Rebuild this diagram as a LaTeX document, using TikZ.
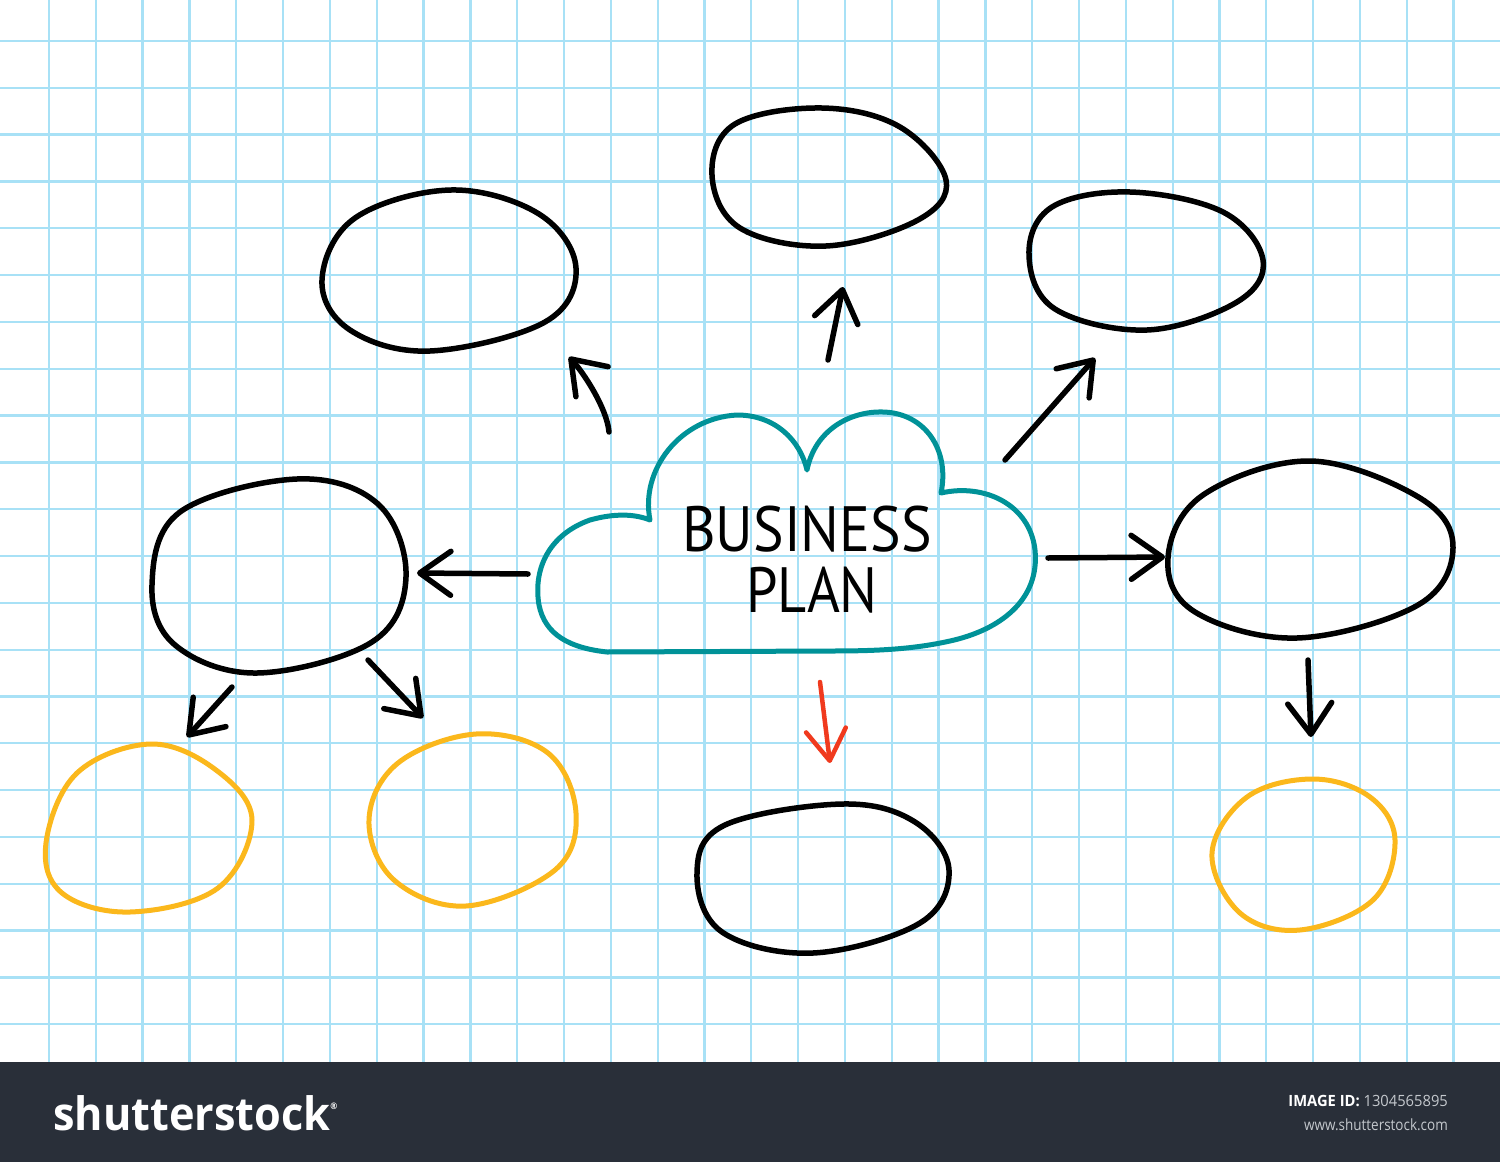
\documentclass[tikz,border=0pt]{standalone}
\usepackage{fontspec}
\usepackage{graphicx}
\setmainfont{PT Sans}
\newfontfamily\barfont{Open Sans}
\usetikzlibrary{arrows.meta}
\definecolor{gridblue}{RGB}{168,225,246}
\definecolor{cloudteal}{RGB}{0,146,152}
\definecolor{penyellow}{RGB}{251,184,28}
\definecolor{penred}{RGB}{240,58,30}
\definecolor{barbg}{RGB}{41,47,57}
\definecolor{bargray}{RGB}{196,200,205}
\tikzset{
  gridline/.style={draw=gridblue, line width=2.3pt},
  blackpen/.style={draw=black, line width=5.5pt, line cap=round, line join=round},
  yellowpen/.style={draw=penyellow, line width=5pt, line cap=round, line join=round},
  cloudpen/.style={draw=cloudteal, line width=5pt, line cap=round, line join=round},
  handarrow/.style={draw=black, line width=5.5pt, line cap=round, line join=round,
    -{Straight Barb[length=31pt, width=44pt, line cap=round, line join=round]}},
  redarrow/.style={draw=penred, line width=4.5pt, line cap=round, line join=round,
    -{Straight Barb[length=31pt, width=40pt, line cap=round, line join=round]}},
  handtext/.style={inner sep=0pt, font=\fontsize{64}{64}\selectfont, text=black},
  oval/.style={smooth cycle, tension=0.62},
}
\begin{document}
\begin{tikzpicture}[x=1pt, y=-1pt]
\useasboundingbox (0,0) rectangle (1500,1162);
\fill[white] (0,0) rectangle (1500,1062);
% grid paper
\foreach \i in {0,...,30} \draw[gridline] ({49+46.82*\i},0) -- ({49+46.82*\i},1062);
\foreach \j in {0,...,21} \draw[gridline] (0,{41+46.82*\j}) -- (1500,{41+46.82*\j});

% black ovals
\draw[blackpen] plot[oval] coordinates {(576,268) (545,322) (430,351) (350,330) (322,280) (355,218) (451,190) (539,214)};
\draw[blackpen] plot[oval] coordinates {(946,180) (918,220) (826,246) (740,228) (712,175) (735,124) (822,108) (900,127)};
\draw[blackpen] plot[oval] coordinates {(1263,260) (1237,302) (1147,330) (1055,309) (1029,255) (1052,207) (1130,192) (1223,212)};
\draw[blackpen] plot[oval] coordinates {(1453,548) (1418,605) (1297,638) (1195,612) (1168,558) (1203,495) (1310,461) (1420,498)};
\draw[blackpen] plot[oval] coordinates {(406,577) (372,642) (257,673) (175,645) (152,585) (180,512) (297,479) (378,504)};
\draw[blackpen] plot[oval] coordinates {(949,870) (920,923) (813,953) (722,932) (697,873) (725,825) (843,804) (915,822)};

% yellow ovals
\draw[yellowpen] plot[oval] coordinates {(252,820) (218,888) (130,912) (62,893) (46,843) (77,773) (151,744) (216,770)};
\draw[yellowpen] plot[oval] coordinates {(576,813) (555,870) (466,906) (394,880) (369,820) (398,763) (476,734) (548,753)};
\draw[yellowpen] plot[oval] coordinates {(1395,840) (1373,900) (1300,930) (1240,913) (1212,853) (1247,797) (1313,779) (1370,797)};

% cloud
\draw[cloudpen] (607,652) .. controls (570,648) and (545,635) .. (539,605)
  .. controls (533,570) and (548,535) .. (590,520)
  .. controls (615,513) and (635,514) .. (650,520)
  .. controls (640,470) and (680,418) .. (737,415)
  .. controls (775,415) and (800,440) .. (807,470)
  .. controls (815,430) and (850,411) .. (883,412)
  .. controls (925,413) and (950,450) .. (941,493)
  .. controls (985,483) and (1030,505) .. (1035,550)
  .. controls (1040,600) and (1000,630) .. (950,641)
  .. controls (910,650) and (870,651) .. (830,651)
  -- (607,652);
\node[handtext, anchor=center] (business) at (807,529) {\scalebox{0.9}[1]{BUSINESS}};
\node[handtext, anchor=center] (plan) at (812,590) {\scalebox{0.88}[1]{PLAN}};

% arrow end points
\coordinate (s1) at (609,432); \coordinate (t1) at (569,357);
\coordinate (s2) at (828,360); \coordinate (t2) at (843,287);
\coordinate (s3) at (1005,460); \coordinate (t3) at (1095,358);
\coordinate (s4) at (1048,558); \coordinate (t4) at (1165,557);
\coordinate (s5) at (528,574); \coordinate (t5) at (417,573);
\coordinate (s6) at (232,687); \coordinate (t6) at (187,737);
\coordinate (s7) at (368,660); \coordinate (t7) at (423,718);
\coordinate (s8) at (820,682); \coordinate (t8) at (830,763);
\coordinate (s9) at (1308,660); \coordinate (t9) at (1311,737);

\draw[handarrow] (s1) .. controls (607,408) and (583,372) .. (t1);
\draw[handarrow] (s2) -- (t2);
\draw[handarrow] (s3) -- (t3);
\draw[handarrow] (s4) -- (t4);
\draw[handarrow] (s5) -- (t5);
\draw[handarrow] (s6) -- (t6);
\draw[handarrow] (s7) -- (t7);
\draw[redarrow] (s8) -- (t8);
\draw[handarrow] (s9) -- (t9);

% footer bar
\fill[barbg] (0,1062) rectangle (1500,1162);
\node[anchor=base west, inner sep=0pt, text=white, font=\barfont\bfseries\fontsize{46}{46}\selectfont] (logo) at (53,1130) {\scalebox{0.94}[1]{shutterstock\raisebox{0.45em}{\fontsize{9}{9}\selectfont ®}}};
\node[anchor=base east, inner sep=0pt, font=\barfont\fontsize{15.5}{15.5}\selectfont] (imgid) at (1448,1106) {\scalebox{0.95}[1]{\textcolor{white}{\bfseries IMAGE ID:} \textcolor{bargray}{1304565895}}};
\node[anchor=base east, inner sep=0pt, text=bargray, font=\barfont\fontsize{15.5}{15.5}\selectfont] (www) at (1448,1130) {\scalebox{0.87}[1]{www.shutterstock.com}};
\end{tikzpicture}
\end{document}
